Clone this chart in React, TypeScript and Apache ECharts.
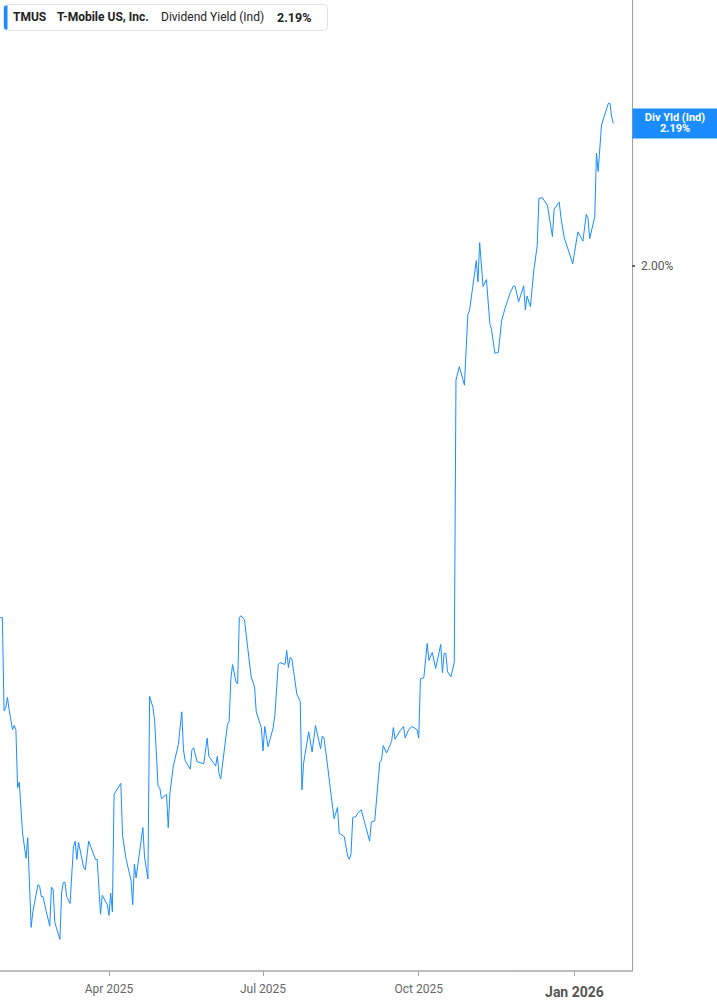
import React, { useEffect, useRef } from "react";
import * as echarts from "echarts";

// Daily indicated dividend yield (%) for TMUS
const dates = [
  "2025-01-24", "2025-01-27", "2025-01-28", "2025-01-29", "2025-01-30", "2025-01-31", "2025-02-01", "2025-02-03",
  "2025-02-04", "2025-02-05", "2025-02-06", "2025-02-07", "2025-02-09", "2025-02-11", "2025-02-12", "2025-02-14",
  "2025-02-15", "2025-02-18", "2025-02-19", "2025-02-20", "2025-02-21", "2025-02-23", "2025-02-25", "2025-02-26",
  "2025-02-27", "2025-02-28", "2025-03-03", "2025-03-04", "2025-03-05", "2025-03-06", "2025-03-07", "2025-03-09",
  "2025-03-11", "2025-03-12", "2025-03-13", "2025-03-14", "2025-03-17", "2025-03-18", "2025-03-20", "2025-03-24",
  "2025-03-25", "2025-03-27", "2025-03-28", "2025-03-31", "2025-04-01", "2025-04-02", "2025-04-03", "2025-04-04",
  "2025-04-08", "2025-04-09", "2025-04-11", "2025-04-14", "2025-04-15", "2025-04-16", "2025-04-17", "2025-04-21",
  "2025-04-22", "2025-04-24", "2025-04-25", "2025-04-27", "2025-04-28", "2025-04-30", "2025-05-01", "2025-05-02",
  "2025-05-05", "2025-05-06", "2025-05-07", "2025-05-09", "2025-05-12", "2025-05-14", "2025-05-15", "2025-05-16",
  "2025-05-19", "2025-05-20", "2025-05-21", "2025-05-23", "2025-05-27", "2025-05-29", "2025-05-30", "2025-06-03",
  "2025-06-04", "2025-06-05", "2025-06-06", "2025-06-10", "2025-06-11", "2025-06-12", "2025-06-13", "2025-06-15",
  "2025-06-16", "2025-06-17", "2025-06-18", "2025-06-20", "2025-06-22", "2025-06-24", "2025-06-26", "2025-06-27",
  "2025-06-30", "2025-07-01", "2025-07-02", "2025-07-04", "2025-07-07", "2025-07-08", "2025-07-10", "2025-07-11",
  "2025-07-14", "2025-07-15", "2025-07-16", "2025-07-17", "2025-07-18", "2025-07-21", "2025-07-23", "2025-07-24",
  "2025-07-25", "2025-07-28", "2025-07-30", "2025-08-01", "2025-08-04", "2025-08-05", "2025-08-06", "2025-08-08",
  "2025-08-10", "2025-08-12", "2025-08-14", "2025-08-15", "2025-08-18", "2025-08-20", "2025-08-21", "2025-08-22",
  "2025-08-23", "2025-08-25", "2025-08-26", "2025-08-28", "2025-09-02", "2025-09-03", "2025-09-05", "2025-09-08",
  "2025-09-09", "2025-09-10", "2025-09-12", "2025-09-15", "2025-09-16", "2025-09-17", "2025-09-20", "2025-09-22",
  "2025-09-23", "2025-09-25", "2025-09-27", "2025-09-30", "2025-10-01", "2025-10-02", "2025-10-04", "2025-10-06",
  "2025-10-07", "2025-10-09", "2025-10-11", "2025-10-14", "2025-10-15", "2025-10-16", "2025-10-17", "2025-10-18",
  "2025-10-20", "2025-10-22", "2025-10-23", "2025-10-25", "2025-10-28", "2025-10-30", "2025-10-31", "2025-11-04",
  "2025-11-05", "2025-11-06", "2025-11-08", "2025-11-10", "2025-11-12", "2025-11-13", "2025-11-15", "2025-11-17",
  "2025-11-19", "2025-11-21", "2025-11-24", "2025-11-26", "2025-11-27", "2025-11-29", "2025-12-02", "2025-12-03",
  "2025-12-04", "2025-12-06", "2025-12-08", "2025-12-10", "2025-12-11", "2025-12-13", "2025-12-16", "2025-12-19",
  "2025-12-20", "2025-12-23", "2025-12-24", "2025-12-26", "2025-12-31", "2026-01-03", "2026-01-06", "2026-01-08",
  "2026-01-09", "2026-01-10", "2026-01-13", "2026-01-14", "2026-01-15", "2026-01-17", "2026-01-21", "2026-01-22",
  "2026-01-23", "2026-01-24",
];

const yieldPct = [
  1.599, 1.599, 1.599, 1.507, 1.510, 1.520, 1.508, 1.489,
  1.493, 1.489, 1.435, 1.440, 1.393, 1.372, 1.390, 1.313,
  1.326, 1.349, 1.348, 1.339, 1.339, 1.326, 1.314, 1.347,
  1.345, 1.317, 1.303, 1.342, 1.351, 1.351, 1.339, 1.333,
  1.382, 1.387, 1.371, 1.386, 1.364, 1.362, 1.387, 1.371,
  1.371, 1.324, 1.340, 1.332, 1.323, 1.342, 1.326, 1.429,
  1.439, 1.392, 1.372, 1.353, 1.332, 1.367, 1.355, 1.399,
  1.373, 1.354, 1.521, 1.510, 1.497, 1.436, 1.435, 1.425,
  1.429, 1.399, 1.430, 1.455, 1.475, 1.506, 1.470, 1.460,
  1.452, 1.470, 1.472, 1.459, 1.457, 1.481, 1.464, 1.455,
  1.464, 1.448, 1.443, 1.494, 1.497, 1.538, 1.552, 1.535,
  1.533, 1.599, 1.601, 1.597, 1.568, 1.540, 1.530, 1.506,
  1.491, 1.469, 1.492, 1.473, 1.491, 1.503, 1.552, 1.554,
  1.552, 1.566, 1.549, 1.559, 1.558, 1.523, 1.516, 1.433,
  1.458, 1.487, 1.468, 1.493, 1.471, 1.483, 1.481, 1.457,
  1.431, 1.407, 1.417, 1.394, 1.391, 1.374, 1.371, 1.376,
  1.408, 1.409, 1.412, 1.415, 1.387, 1.404, 1.405, 1.459,
  1.460, 1.474, 1.467, 1.478, 1.491, 1.480, 1.488, 1.492,
  1.481, 1.489, 1.492, 1.489, 1.481, 1.538, 1.539, 1.573,
  1.556, 1.564, 1.548, 1.572, 1.544, 1.563, 1.563, 1.545,
  1.540, 1.554, 1.860, 1.876, 1.854, 1.939, 1.944, 2.007,
  1.980, 2.030, 1.974, 1.983, 1.928, 1.921, 1.892, 1.893,
  1.932, 1.947, 1.966, 1.975, 1.974, 1.955, 1.975, 1.945,
  1.962, 1.949, 1.995, 2.026, 2.088, 2.089, 2.079, 2.038,
  2.074, 2.083, 2.063, 2.036, 2.003, 2.044, 2.032, 2.067,
  2.062, 2.035, 2.064, 2.149, 2.124, 2.188, 2.218, 2.218,
  2.199, 2.19,
];

const quarterTicks = ["2025-04-01", "2025-07-01", "2025-10-01", "2026-01-01"];
const yTicks = [2.0];
const xRange = ["2025-01-26T14:30:00", "2026-02-04T00:00:00"];
const yRange = [1.277, 2.369];
const MONTHS = ["Jan", "Feb", "Mar", "Apr", "May", "Jun", "Jul", "Aug", "Sep", "Oct", "Nov", "Dec"];

const ticker = "TMUS";
const company = "T-Mobile US, Inc.";
const metric = "Dividend Yield (Ind)";
const badgeTitle = "Div Yld (Ind)";

const BLUE = "#1a8cff";
const FONT = "Roboto, 'Noto Sans', sans-serif";
const NARROW = "'Liberation Sans Narrow', Roboto, sans-serif";

const toTime = (s: string) => new Date(s.length === 10 ? s + "T00:00:00" : s).getTime();

export default function App() {
  const ref = useRef<HTMLDivElement>(null);

  useEffect(() => {
    if (!ref.current) return;
    const chart = echarts.init(ref.current, null, { renderer: "svg" });
    const last = yieldPct[yieldPct.length - 1];
    const lastText = last.toFixed(2) + "%";
    const tickTimes = quarterTicks.map(toTime);

    chart.setOption({
      animation: false,
      backgroundColor: "#ffffff",
      grid: { left: 0, right: 85, top: 0, bottom: 34, containLabel: false, outerBoundsMode: "none" },
      xAxis: {
        type: "value",
        min: toTime(xRange[0]),
        max: toTime(xRange[1]),
        axisLine: { show: true, lineStyle: { color: "#a8a8a8", width: 1.5 } },
        axisTick: { show: true, customValues: tickTimes, length: 5, lineStyle: { color: "#a8a8a8" } },
        axisLabel: {
          customValues: tickTimes,
          margin: 12,
          color: "#666",
          fontSize: 12,
          fontFamily: NARROW,
          formatter: (v: number) => {
            const d = new Date(v);
            const s = `${MONTHS[d.getMonth()]} ${d.getFullYear()}`;
            return d.getMonth() === 0 ? `{yr|${s}}` : s;
          },
          rich: {
            yr: { fontWeight: "bold", fontSize: 14, color: "#555", fontFamily: NARROW, padding: [2, 0, 0, 0] },
          },
        },
        splitLine: { show: false },
      },
      yAxis: {
        type: "log",
        logBase: 2,
        position: "right",
        min: yRange[0],
        max: yRange[1],
        axisLine: { show: true, lineStyle: { color: "#9e9e9e", width: 1 } },
        axisTick: { show: true, length: 3, lineStyle: { color: "#666", width: 2 } },
        axisLabel: {
          margin: 9,
          color: "#555",
          fontSize: 12,
          fontFamily: FONT,
          showMinLabel: false,
          showMaxLabel: false,
          formatter: (v: number) => (yTicks.some((t) => Math.abs(t - v) < 1e-6) ? v.toFixed(2) + "%" : ""),
        },
        splitLine: { show: false },
      },
      series: [
        {
          type: "line",
          data: dates.map((d, i) => [toTime(d), yieldPct[i]]),
          showSymbol: false,
          symbol: "none",
          clip: true,
          lineStyle: { color: BLUE, width: 1 },
          itemStyle: { color: BLUE },
        },
      ],
    });

    const yLast = chart.convertToPixel({ yAxisIndex: 0 }, last) as number;

    chart.setOption({
      graphic: [
        // header box
        {
          type: "rect",
          shape: { x: 3.5, y: 4.5, width: 324, height: 26, r: 4 },
          style: { fill: "#fff", stroke: "#e2e2e2", lineWidth: 1 },
          z: 10,
        },
        {
          type: "rect",
          shape: { x: 4, y: 5.5, width: 3.5, height: 24, r: [2, 0, 0, 2] },
          style: { fill: BLUE },
          z: 11,
        },
        {
          type: "text",
          x: 13,
          y: 17,
          style: { text: ticker, fill: "#222", font: `bold 12px ${FONT}`, textVerticalAlign: "middle" },
          z: 11,
        },
        {
          type: "text",
          x: 57,
          y: 17,
          style: { text: company, fill: "#222", font: `bold 12px ${FONT}`, textVerticalAlign: "middle" },
          z: 11,
        },
        {
          type: "text",
          x: 161,
          y: 17,
          style: { text: metric, fill: "#222", font: `12px ${FONT}`, textVerticalAlign: "middle" },
          z: 11,
        },
        {
          type: "text",
          x: 277,
          y: 17,
          style: { text: lastText, fill: "#222", font: `bold 12.5px ${FONT}`, textVerticalAlign: "middle" },
          z: 11,
        },
        // last-value badge on the right axis
        {
          type: "rect",
          shape: { x: 632.5, y: yLast - 15, width: 85, height: 30 },
          style: { fill: BLUE },
          z: 10,
        },
        {
          type: "text",
          x: 675,
          y: yLast,
          style: {
            text: `${badgeTitle}\n${lastText}`,
            fill: "#fff",
            font: `bold 11px ${FONT}`,
            lineHeight: 11,
            textAlign: "center",
            textVerticalAlign: "middle",
          },
          z: 11,
        },
      ],
    });

    return () => chart.dispose();
  }, []);

  return (
    <div
      ref={ref}
      style={{ position: "fixed", left: 0, top: 0, width: 717, height: 1005, background: "#fff" }}
    />
  );
}
